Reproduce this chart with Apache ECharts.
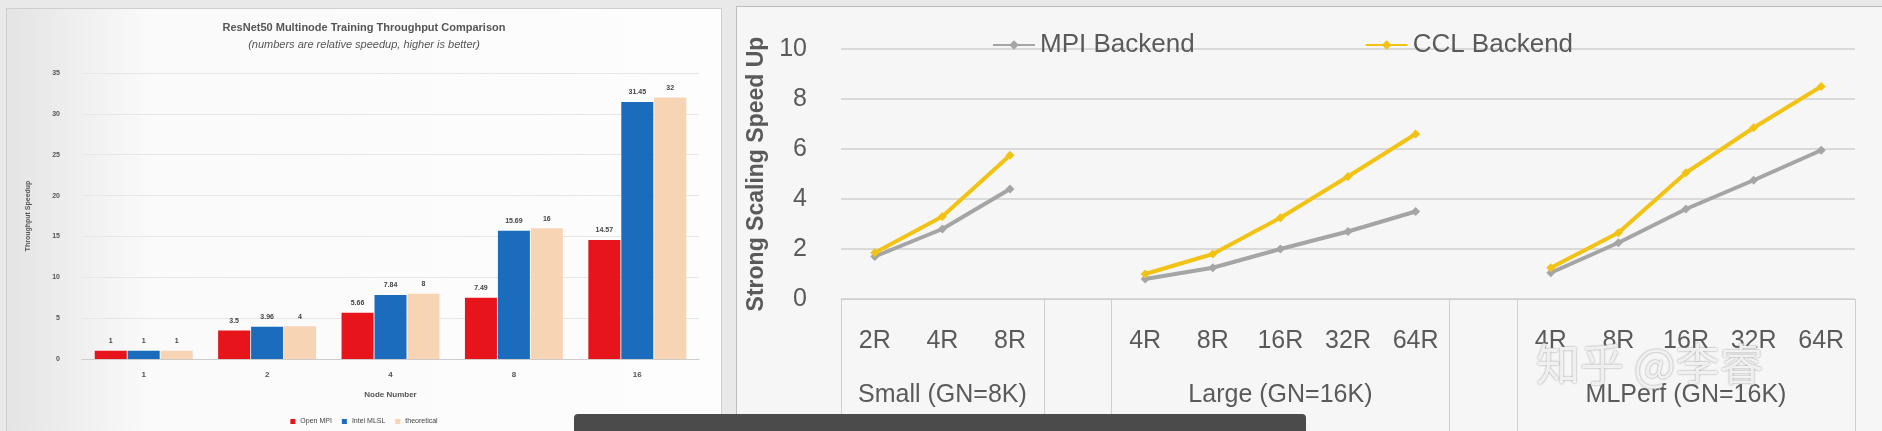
<!DOCTYPE html>
<html>
<head>
<meta charset="utf-8">
<script src="https://cdn.jsdelivr.net/npm/echarts@6/dist/echarts.min.js"></script>
<style>
  body { margin: 0; width: 1882px; height: 431px; background: #e9e9e9; position: relative; overflow: hidden; font-family: 'Open Sans', sans-serif; }
  #left { position: absolute; left: 6px; top: 8px; width: 714px; height: 423px; background: linear-gradient(90deg, #e4e4e4, #fafafa 20%, #fdfdfd); border: 1px solid #cfcfcf; }
  #right { position: absolute; left: 736px; top: 6px; width: 1146px; height: 425px; background: #f6f6f6; border: 1px solid #bdbdbd; }
  #bar { position: absolute; left: 574px; top: 414px; width: 732px; height: 17px; background: #4b4b4b; border-radius: 4px 4px 0 0; }
  #wm { position: absolute; left: 1536px; top: 330px; font-family: 'Noto Sans CJK SC'; font-size: 44px; color: rgba(255,255,255,0.85); text-shadow: 0 0 2px #888; }
</style>
</head>
<body>
<div id="left"></div>
<div id="right"></div>
<div id="bar"></div>
<div id="wm">知乎 @李睿</div>
<script>
// left chart: bars
const nodeNums = ['1', '2', '4', '8', '16'];
const openMpi = [1, 3.5, 5.66, 7.49, 14.57];
const intelMlsl = [1, 3.96, 7.84, 15.69, 31.45];
const theoretical = [1, 4, 8, 16, 32];

// right chart: lines
const ranks = ['2R', '4R', '8R', '', '4R', '8R', '16R', '32R', '64R', '', '4R', '8R', '16R', '32R', '64R'];
const groupNames = ['Small (GN=8K)', 'Large (GN=16K)', 'MLPerf (GN=16K)'];
const groupCenters = [1, 6, 12];
const groupEdges = [0, 3, 4, 9, 10, 15];
const mpiBackend = [1.7, 2.8, 4.4, null, 0.8, 1.25, 2.0, 2.7, 3.5, null, 1.05, 2.25, 3.6, 4.75, 5.95];
const cclBackend = [1.85, 3.3, 5.75, null, 1.0, 1.8, 3.25, 4.9, 6.6, null, 1.25, 2.65, 5.05, 6.85, 8.5];

function barSeries(name, data, color) {
    return {
        name, type: 'bar', data, barWidth: 32, barGap: '3%',
        itemStyle: { color },
        label: { show: true, position: 'top', fontSize: 7, fontWeight: 'bold', color: '#444', distance: 6 }
    };
}

const leftChart = echarts.init(document.getElementById('left'));
leftChart.setOption({
    backgroundColor: 'transparent',
    title: {
        text: 'ResNet50 Multinode Training Throughput Comparison',
        subtext: '(numbers are relative speedup, higher is better)',
        left: 'center', top: 8, itemGap: 6,
        textStyle: { fontSize: 11, fontWeight: 'bold', color: '#555' },
        subtextStyle: { fontSize: 11, fontStyle: 'italic', color: '#555' }
    },
    grid: { left: 75, right: 22, top: 64, bottom: 73 },
    legend: {
        bottom: 2, itemWidth: 5, itemHeight: 5, itemGap: 10, icon: 'rect',
        textStyle: { fontSize: 7, color: '#444' }
    },
    xAxis: {
        type: 'category', data: nodeNums,
        name: 'Node Number', nameLocation: 'middle', nameGap: 32,
        nameTextStyle: { fontSize: 8, fontWeight: 'bold', color: '#555' },
        axisTick: { show: false },
        axisLine: { lineStyle: { color: '#ccc' } },
        axisLabel: { fontSize: 8, fontWeight: 'bold', color: '#555', margin: 12 }
    },
    yAxis: {
        type: 'value', min: 0, max: 35, interval: 5,
        name: 'Throughput Speedup', nameLocation: 'middle', nameGap: 50,
        nameTextStyle: { fontSize: 7, fontWeight: 'bold', color: '#555' },
        axisLabel: { fontSize: 7, fontWeight: 'bold', color: '#555', margin: 22 },
        splitLine: { lineStyle: { color: '#e6e6e6' } }
    },
    series: [
        barSeries('Open MPI', openMpi, '#e8141b'),
        barSeries('Intel MLSL', intelMlsl, '#1c6cbd'),
        barSeries('theoretical', theoretical, '#f7d4b3')
    ]
});

const rightChart = echarts.init(document.getElementById('right'));
const txt = '#5a5a5a';
rightChart.setOption({
    backgroundColor: 'transparent',
    grid: { left: 104, right: 28, top: 42, bottom: 133 },
    legend: {
        top: 20, left: 250, itemGap: 170, itemWidth: 42, itemHeight: 12,
        textStyle: { fontSize: 26, color: txt, fontFamily: 'Liberation Sans Narrow, Liberation Sans' },
        data: ['MPI Backend', 'CCL Backend']
    },
    xAxis: [
        {
            type: 'category', data: ranks,
            axisLine: { lineStyle: { color: '#cfcfcf' } },
            axisTick: { show: false },
            axisLabel: { fontSize: 25, color: txt, margin: 30, interval: 0, fontFamily: 'Liberation Sans Narrow, Liberation Sans' }
        },
        {
            type: 'category', data: ranks, position: 'bottom', offset: 0,
            axisLine: { show: false },
            axisTick: {
                show: true, length: 132, lineStyle: { color: '#cfcfcf' },
                interval: (i) => groupEdges.includes(i)
            },
            axisLabel: {
                show: true, interval: 0, margin: 84, fontSize: 25, color: txt,
                fontFamily: 'Liberation Sans Narrow, Liberation Sans',
                formatter: (v, i) => {
                    const g = groupCenters.indexOf(i);
                    return g >= 0 ? groupNames[g] : '';
                }
            }
        }
    ],
    yAxis: {
        type: 'value', min: 0, max: 10, interval: 2,
        name: 'Strong Scaling Speed Up', nameLocation: 'middle', nameGap: 55,
        nameTextStyle: { fontSize: 23, fontWeight: 'bold', color: txt },
        axisLabel: { fontSize: 25, color: txt, margin: 34 },
        splitLine: { lineStyle: { color: '#d9d9d9', width: 2 } }
    },
    series: [
        {
            name: 'MPI Backend', type: 'line', data: mpiBackend, connectNulls: false,
            symbol: 'diamond', symbolSize: 9,
            lineStyle: { color: '#a5a5a5', width: 4 }, itemStyle: { color: '#a5a5a5' }
        },
        {
            name: 'CCL Backend', type: 'line', data: cclBackend, connectNulls: false,
            symbol: 'diamond', symbolSize: 9,
            lineStyle: { color: '#f2c314', width: 4 }, itemStyle: { color: '#f2c314' }
        }
    ]
});
</script>
</body>
</html>
